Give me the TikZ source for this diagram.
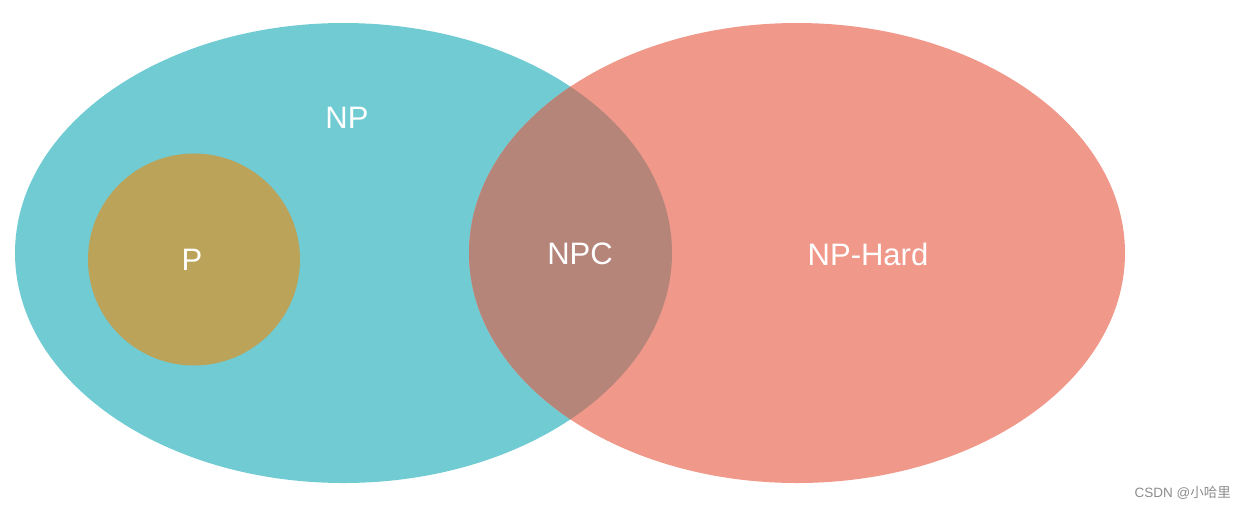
\documentclass[tikz,border=0pt]{standalone}
\usepackage{fontspec}
\setmainfont{Liberation Sans}
\newfontfamily\cjk{Noto Sans CJK SC}
\usepackage{tikz}
\usetikzlibrary{shapes.geometric,positioning}
\definecolor{npcolor}{HTML}{70CBD3}
\definecolor{hardcolor}{HTML}{F0988A}
\definecolor{npccolor}{HTML}{B5857A}
\definecolor{pcolor}{HTML}{BCA35A}
\definecolor{markcolor}{HTML}{8C8C8C}

\begin{document}
\begin{tikzpicture}[x=1pt, y=-1pt,
    setlabel/.style={text=white, font=\fontsize{31}{36}\selectfont, inner sep=0pt},
]
    \useasboundingbox (0,0) rectangle (1246,509);

    % Sets
    \fill[npcolor] (343.5,253) ellipse [x radius=328.5, y radius=230];
    \fill[hardcolor] (797,253) ellipse [x radius=328, y radius=230];
    \begin{scope}
        \clip (343.5,253) ellipse [x radius=328.5, y radius=230];
        \fill[npccolor] (797,253) ellipse [x radius=328, y radius=230];
    \end{scope}
    \fill[pcolor] (194,259.5) circle [radius=106];

    % Labels
    \node[setlabel] (np) at (347,118) {NP};
    \node[setlabel] (p) at (192,260) {P};
    \node[setlabel] (npc) at (580,254) {NPC};
    \node[setlabel] (nphard) at (868,254) {NP-Hard};

    % Watermark
    \node[text=markcolor, font=\fontsize{13.5}{16}\selectfont, inner sep=0pt, anchor=east] (mark) at (1231,493) {CSDN @{\cjk 小哈里}};
\end{tikzpicture}
\end{document}
